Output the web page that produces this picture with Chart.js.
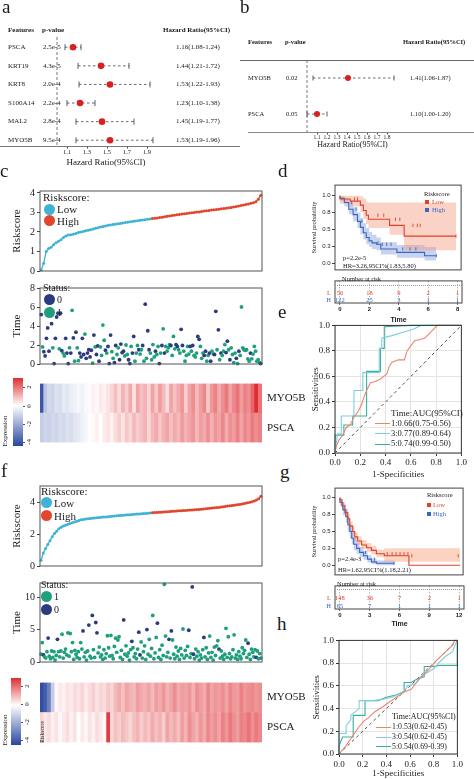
<!DOCTYPE html>
<html>
<head>
<meta charset="utf-8">
<title>Risk model figure</title>
<script src="https://cdn.jsdelivr.net/npm/chart.js@4.4.1/dist/chart.umd.min.js"></script>
<style>
  html, body { margin: 0; padding: 0; background: #fff; }
  body { position: relative; width: 474px; height: 779px; overflow: hidden; font-family: "Liberation Serif", "DejaVu Serif", serif; color: #1a1a1a; }
  canvas { position: absolute; }
  .t { position: absolute; white-space: nowrap; line-height: 1; }
</style>
</head>
<body>
<script>
// ---------- data ----------

// a: univariate cox
const aFeatures = ['PSCA', 'KRT19', 'KRT8', 'S100A14', 'MAL2', 'MYO5B'];
const aPvalues = ['2.5e-5', '4.3e-5', '2.0e-4', '2.2e-4', '2.8e-4', '9.5e-4'];
const aHR = [1.16, 1.44, 1.53, 1.23, 1.45, 1.53];
const aLow = [1.08, 1.21, 1.22, 1.10, 1.19, 1.19];
const aHigh = [1.24, 1.72, 1.93, 1.38, 1.77, 1.96];
const aTicks = [1.1, 1.3, 1.5, 1.7, 1.9];

// b: multivariate cox
const bFeatures = ['MYO5B', 'PSCA'];
const bPvalues = ['0.02', '0.05'];
const bHR = [1.41, 1.10];
const bLow = [1.06, 1.00];
const bHigh = [1.87, 1.20];
const bTicks = [1.1, 1.2, 1.3, 1.4, 1.5, 1.6, 1.7, 1.8];

// c: training cohort
const cRiskLow = [0.05, 0.4, 1.0, 1.15, 1.22, 1.35, 1.45, 1.52, 1.6, 1.72,
  1.8, 1.85, 1.86, 1.88, 1.92, 1.97, 2.0, 2.03, 2.06, 2.09,
  2.12, 2.15, 2.19, 2.22, 2.25, 2.28, 2.31, 2.34, 2.36, 2.38,
  2.4, 2.42, 2.44, 2.46, 2.48, 2.5, 2.52, 2.54, 2.56, 2.58,
  2.6, 2.62, 2.63, 2.65, 2.67];
const cRiskHigh = [2.69, 2.7, 2.72, 2.74, 2.76, 2.78, 2.8, 2.82, 2.84, 2.86,
  2.88, 2.9, 2.92, 2.93, 2.95, 2.97, 2.98, 3.0, 3.02, 3.03,
  3.05, 3.07, 3.09, 3.1, 3.12, 3.14, 3.15, 3.17, 3.19, 3.2,
  3.22, 3.24, 3.26, 3.28, 3.3, 3.33, 3.36, 3.38, 3.41, 3.44,
  3.47, 3.5, 3.55, 3.68, 3.88];
const cTime = [5.2, 1.8, 1.3, 0.85, 2.7, 3.8, 1.35, 5.8, 4.25, 1.7,
  0.05, 2.7, 4.95, 5.35, 1.6, 5.35, 1.4, 1.15, 0.85, 2.7,
  1.15, 0.05, 1.7, 1.15, 5.65, 2.75, 0.3, 3.35, 1.7, 0.35,
  1.15, 0.75, 2.7, 1.0, 3.15, 0.6, 1.15, 1.5, 0.75, 1.45,
  0.1, 3.05, 1.8, 1.0, 1.9, 0.3, 1.8, 0.9, 4.1, 2.5,
  1.45, 1.15, 1.85, 0.05, 3.05, 1.3, 0.6, 0.15, 1.95, 1.0,
  1.7, 0.45, 2.1, 1.2, 1.35, 0.85, 2.0, 1.0, 0.45, 0.05,
  1.85, 1.15, 2.9, 0.3, 1.15, 1.95, 1.5, 1.05, 1.5, 1.95,
  0.3, 6.3, 0.6, 3.5, 1.5, 1.15, 0.45, 2.05, 0.75, 1.35,
  1.0, 1.85, 0.05, 1.15, 1.95, 3.7, 1.15, 1.85, 1.35, 1.7,
  2.05, 1.95, 0.9, 2.9, 1.6, 2.05, 1.85, 1.5, 1.15, 3.65,
  1.95, 1.35, 0.3, 0.9, 1.85, 1.05, 1.85, 1.35, 1.95, 0.9,
  0.75, 1.15, 2.9, 2.6, 1.85, 0.6, 1.15, 0.9, 1.35, 0.3,
  0.9, 1.15, 0.3, 1.35, 1.05, 1.0, 5.55, 1.5, 3.6, 0.45,
  1.15, 0.9, 1.35, 2.05, 1.2, 2.4, 1.5, 0.45, 1.7, 1.0,
  0.15, 1.15, 0.6, 0.05, 1.35, 0.9, 6.0, 1.7, 1.5, 1.45,
  1.5, 0.55, 0.3, 1.15, 0.55, 1.05, 1.85, 1.35, 0.3, 0.45,
  0.15, 0.05];
const cStatus = [0, 1, 0, 0, 0, 0, 0, 0, 0, 1,
  0, 0, 0, 0, 1, 0, 0, 1, 1, 0,
  0, 0, 1, 0, 1, 0, 1, 0, 1, 1,
  0, 0, 0, 0, 1, 0, 0, 0, 0, 0,
  1, 0, 1, 0, 0, 0, 1, 1, 1, 1,
  0, 1, 0, 0, 0, 1, 1, 0, 0, 1,
  1, 0, 0, 0, 0, 1, 1, 1, 0, 0,
  1, 0, 0, 1, 1, 1, 0, 1, 1, 0,
  1, 0, 1, 0, 0, 1, 1, 1, 1, 0,
  1, 1, 0, 1, 0, 1, 0, 1, 1, 1,
  1, 0, 1, 1, 1, 0, 0, 1, 1, 0,
  0, 1, 1, 1, 1, 1, 0, 1, 0, 1,
  1, 1, 0, 0, 1, 1, 1, 0, 0, 1,
  1, 0, 0, 1, 1, 0, 0, 1, 0, 1,
  0, 1, 1, 1, 0, 0, 1, 0, 1, 1,
  1, 1, 0, 1, 0, 1, 1, 1, 1, 1,
  1, 1, 1, 0, 1, 1, 1, 1, 1, 1,
  1, 0];
const cMYO5B = [-4.0, -1.4, -0.9, -1.0, -0.7, -0.8, -0.5, -0.6, -0.4, -0.3,
  -0.2, -0.3, 0.1, -0.1, 0.2, 0.1, 0.3, 0.2, 0.4, 0.6,
  0.9, 0.5, 1.1, 0.7, 1.2, 0.4, 1.3, 0.9, 1.1, 0.6,
  1.3, 0.8, 1.4, 1.0, 0.5, 1.3, 0.9, 1.2, 1.5, 0.7,
  1.3, 1.6, 1.0, 1.4, 1.7, 0.8, 1.5, 1.8, 1.2, 1.6,
  1.9, 1.3, 1.7, 2.0, 1.4, 1.8, 1.6, 2.2, 3.0, 2.0];
const cPSCA = [-1.2, -1.0, -1.1, -0.9, -1.0, -0.8, -0.9, -0.7, -0.8, -0.6,
  -0.5, -0.3, -0.2, 0.0, 0.1, 0.2, 0.0, 0.3, 0.4, 0.2,
  0.5, 0.7, 0.4, 0.8, 0.6, 1.0, 0.7, 0.9, 1.1, 0.6,
  1.0, 1.2, 0.8, 1.1, 1.3, 0.9, 1.2, 1.0, 1.4, 1.1,
  1.3, 1.5, 1.0, 1.4, 1.2, 1.6, 1.1, 1.5, 1.3, 1.7,
  1.2, 1.6, 1.4, 1.8, 1.3, 1.7, 1.5, 1.9, 1.6, 1.8];

// d: KM, training cohort
const dTicks = [0, 2, 4, 6, 8];
const dRiskLow = [56, 18, 9, 2, 1];
const dRiskHigh = [122, 25, 3, 1, 1];
const dLowT = [0, 0.7, 1.4, 1.6, 1.8, 1.95, 3.4, 4.4, 5.85, 7.95];
const dLowS = [1.0, 0.95, 0.92, 0.86, 0.78, 0.71, 0.65, 0.56, 0.40, 0.40];
const dLowUp = [1.0, 1.0, 1.0, 0.99, 0.96, 0.91, 0.90, 0.90, 0.90, 0.90];
const dLowLo = [1.0, 0.88, 0.84, 0.76, 0.66, 0.58, 0.52, 0.42, 0.19, 0.19];
const dLowCens = [1.0, 1.2, 2.6, 3.0, 3.8, 4.1, 5.0, 5.3, 5.5, 7.95];
const dHighT = [0, 0.3, 0.6, 0.9, 1.2, 1.4, 1.6, 1.8, 2.0, 2.2, 2.5, 2.8, 3.9, 5.8, 6.0, 6.6];
const dHighS = [1.0, 0.96, 0.9, 0.8, 0.72, 0.62, 0.53, 0.45, 0.38, 0.33, 0.3, 0.28, 0.21, 0.16, 0.11, 0.11];
const dHighUp = [1.0, 0.99, 0.96, 0.9, 0.83, 0.75, 0.67, 0.59, 0.52, 0.46, 0.42, 0.38, 0.31, 0.27, 0.24, 0.24];
const dHighLo = [1.0, 0.92, 0.84, 0.72, 0.62, 0.52, 0.43, 0.35, 0.28, 0.24, 0.21, 0.19, 0.13, 0.08, 0.04, 0.04];
const dHighCens = [0.8, 1.1, 1.5, 2.6, 2.9, 3.2, 3.5, 4.3, 4.8, 5.2, 6.6];

// e: ROC, training cohort
const e1F = [0, 0.01, 0.03, 0.06, 0.09, 0.12, 0.15, 0.18, 0.21, 0.23, 0.25, 0.28, 0.32, 0.36, 0.41, 0.43, 0.45, 0.5, 0.55, 0.57, 0.6, 0.63, 0.71, 0.75, 0.79, 0.81, 1];
const e1T = [0, 0.05, 0.1, 0.14, 0.2, 0.22, 0.28, 0.32, 0.38, 0.44, 0.49, 0.55, 0.56, 0.58, 0.62, 0.68, 0.71, 0.73, 0.73, 0.8, 0.84, 0.88, 0.9, 0.94, 0.98, 1, 1];
const e3F = [0, 0.02, 0.05, 0.05, 0.15, 0.15, 0.22, 0.22, 0.35, 0.35, 0.37, 0.37, 0.45, 0.55, 0.62, 0.68, 1];
const e3T = [0, 0.15, 0.15, 0.29, 0.29, 0.49, 0.49, 0.63, 0.63, 0.82, 0.82, 0.9, 0.92, 0.95, 0.97, 1, 1];
const e5F = [0, 0, 0.07, 0.07, 0.14, 0.14, 0.25, 0.25, 0.36, 0.36, 0.39, 0.39, 0.6, 1];
const e5T = [0, 0.14, 0.14, 0.22, 0.22, 0.29, 0.29, 0.64, 0.64, 0.82, 0.82, 0.99, 1, 1];
const eAUC = ['1:0.66(0.75-0.56)', '3:0.77(0.89-0.64)', '5:0.74(0.99-0.50)'];

// f: validation cohort
const fRiskLow = [0.36, 0.82, 1.1, 1.35, 1.6, 1.85, 2.05, 2.2, 2.35, 2.45,
  2.52, 2.58, 2.63, 2.68, 2.73, 2.78, 2.83, 2.88, 2.92, 2.94,
  2.96, 2.98, 3.0, 3.01, 3.03, 3.04, 3.06, 3.07, 3.09, 3.1,
  3.11, 3.13, 3.14, 3.15, 3.17, 3.18, 3.19, 3.2, 3.22, 3.23,
  3.24, 3.25, 3.27, 3.28, 3.29, 3.3, 3.31, 3.32, 3.33, 3.35];
const fRiskHigh = [3.36, 3.37, 3.38, 3.39, 3.4, 3.41, 3.42, 3.43, 3.44, 3.45,
  3.46, 3.47, 3.48, 3.49, 3.5, 3.51, 3.52, 3.53, 3.54, 3.55,
  3.56, 3.57, 3.59, 3.6, 3.61, 3.63, 3.64, 3.66, 3.67, 3.69,
  3.7, 3.72, 3.74, 3.76, 3.78, 3.8, 3.82, 3.84, 3.86, 3.88,
  3.9, 3.93, 3.96, 3.99, 4.02, 4.06, 4.1, 4.16, 4.24, 4.4];
const fTime = [1.2, 3.0, 1.1, 0.8, 0.6, 1.6, 3.7, 0.9, 0.5, 1.7,
  0.7, 1.6, 0.3, 1.0, 3.5, 1.6, 0.8, 1.7, 4.3, 0.6,
  1.5, 2.0, 1.1, 4.5, 0.9, 4.4, 1.6, 3.0, 0.4, 1.8,
  1.2, 0.7, 1.6, 0.5, 3.0, 2.0, 4.8, 0.8, 1.5, 0.3,
  1.7, 5.7, 0.9, 0.6, 7.2, 1.9, 0.7, 6.1, 4.5, 1.4,
  2.3, 0.8, 1.1, 0.4, 1.9, 0.6, 1.3, 4.05, 2.2, 0.9,
  4.1, 1.0, 0.5, 2.4, 3.7, 1.5, 3.4, 3.9, 0.7, 1.8,
  0.4, 6.5, 1.2, 2.5, 0.9, 1.4, 0.3, 1.9, 3.2, 2.2,
  0.8, 1.3, 0.5, 2.0, 4.6, 1.1, 3.1, 0.6, 1.6, 2.5,
  0.4, 5.0, 1.2, 3.5, 0.9, 2.1, 7.2, 0.5, 1.4, 3.8,
  6.0, 0.7, 1.9, 0.4, 2.6, 1.0, 12.0, 4.0, 0.8, 1.5,
  3.5, 0.6, 4.8, 3.4, 1.2, 0.5, 2.3, 0.9, 1.7, 0.4,
  2.1, 1.1, 5.1, 0.6, 1.8, 1.0, 2.4, 4.9, 0.7, 1.3,
  11.6, 1.2, 0.5, 2.0, 0.9, 1.6, 0.3, 1.1, 0.6, 1.9,
  3.8, 0.8, 2.2, 0.4, 1.4, 4.0, 0.7, 1.5, 0.3, 2.3,
  1.0, 2.5, 3.3, 2.0, 0.6, 1.7, 0.9, 0.4, 1.2, 5.2,
  0.7, 3.9, 1.3, 0.5, 0.8, 1.9, 4.2, 0.6, 1.1, 0.4,
  1.6, 0.9, 0.5, 2.2, 1.3, 1.8, 3.4, 0.7, 2.9, 1.2,
  0.4, 2.0, 1.5, 0.8, 1.9, 0.7, 1.7, 0.5, 1.3, 0.6];
const fStatus = [1, 1, 0, 1, 1, 1, 0, 1, 1, 1,
  1, 1, 1, 1, 0, 1, 1, 1, 1, 1,
  1, 1, 1, 1, 1, 1, 1, 1, 1, 1,
  1, 1, 1, 1, 1, 1, 0, 1, 1, 1,
  1, 0, 1, 1, 0, 1, 1, 0, 0, 1,
  1, 1, 1, 1, 1, 1, 1, 1, 1, 1,
  1, 1, 1, 1, 1, 1, 1, 1, 1, 1,
  1, 0, 1, 1, 1, 1, 1, 1, 0, 1,
  1, 1, 1, 1, 0, 0, 1, 1, 1, 1,
  1, 0, 1, 1, 1, 1, 1, 1, 1, 1,
  0, 1, 1, 1, 1, 1, 1, 1, 1, 1,
  0, 1, 0, 1, 1, 1, 1, 1, 1, 1,
  1, 1, 1, 1, 1, 1, 1, 0, 1, 1,
  0, 0, 1, 1, 1, 1, 1, 1, 1, 1,
  0, 1, 1, 1, 1, 1, 1, 1, 1, 1,
  1, 1, 1, 0, 1, 1, 1, 1, 1, 1,
  1, 1, 1, 1, 1, 1, 1, 1, 1, 1,
  1, 1, 1, 1, 1, 1, 1, 1, 0, 1,
  1, 1, 1, 1, 1, 0, 1, 1, 1, 1];
const fMYO5B = [-4.2, -3.8, -3.0, -1.2, 0.1, 0.3, 0.2, 0.4, 0.3, 0.5,
  0.4, 0.6, 0.3, 0.5, 0.7, 0.4, 0.6, 0.5, 0.8, 0.6,
  1.0, 1.2, 0.9, 1.3, 1.1, 1.0, 1.4, 1.2, 1.1, 1.3,
  1.0, 1.4, 1.2, 1.5, 1.1, 1.3, 1.6, 1.2, 1.4, 1.3,
  1.5, 1.1, 1.6, 1.4, 1.2, 1.7, 1.3, 1.5, 1.4, 1.6,
  1.3, 1.7, 1.5, 1.4, 1.8, 1.5, 1.6, 1.7, 1.5, 1.6];
const fPSCA = [0.6, 0.3, 0.5, 0.2, 0.4, 0.1, 0.3, 0.5, 0.2, 0.4,
  0.0, 0.3, 0.1, 0.4, 0.2, 0.5, 0.3, 0.1, 2.8, 0.6,
  0.9, 0.7, 1.0, 0.8, 0.6, 0.9, 1.1, 0.7, 1.0, 0.8,
  1.2, 0.9, 1.1, 0.7, 1.3, 1.0, 1.2, 0.9, 1.4, 1.1,
  1.6, 1.3, 1.1, 1.5, 1.2, 1.7, 1.4, 1.6, 1.3, 1.8,
  1.5, 1.9, 1.6, 1.4, 1.8, 1.7, 2.0, 1.6, 1.9, 1.7];

// g: KM, validation cohort
const gTicks = [0, 3, 6, 9, 12];
const gRiskLow = [148, 36, 7, 2, 1];
const gRiskHigh = [65, 7, 1, 1, 1];
const gLowT = [0, 0.2, 0.5, 0.8, 1.0, 1.3, 1.5, 1.8, 2.2, 2.7, 3.2, 3.7, 4.5, 7.0, 12.2];
const gLowS = [1.0, 0.97, 0.88, 0.78, 0.69, 0.58, 0.5, 0.42, 0.36, 0.3, 0.26, 0.22, 0.17, 0.14, 0.0];
const gLowUp = [1.0, 1.0, 0.93, 0.84, 0.76, 0.65, 0.57, 0.49, 0.43, 0.37, 0.33, 0.29, 0.23, 0.25, 0.25];
const gLowLo = [1.0, 0.94, 0.83, 0.72, 0.62, 0.51, 0.43, 0.35, 0.3, 0.24, 0.2, 0.16, 0.12, 0.05, 0.05];
const gLowCens = [4.8, 5.3, 5.7, 6.1, 6.5, 6.9, 7.3, 12.0];
const gHighT = [0, 0.3, 0.6, 0.8, 1.0, 1.2, 1.4, 1.7, 2.0, 2.4, 2.8, 3.2, 3.7, 4.2, 5.5];
const gHighS = [1.0, 0.93, 0.82, 0.72, 0.6, 0.5, 0.4, 0.31, 0.25, 0.19, 0.14, 0.09, 0.05, 0.03, 0.03];
const gHighUp = [1.0, 0.98, 0.9, 0.81, 0.7, 0.6, 0.5, 0.41, 0.34, 0.27, 0.21, 0.15, 0.1, 0.07, 0.07];
const gHighLo = [1.0, 0.88, 0.74, 0.63, 0.5, 0.4, 0.31, 0.22, 0.17, 0.12, 0.08, 0.04, 0.02, 0.0, 0.0];
const gHighCens = [2.6, 3.5, 5.5];

// h: ROC, validation cohort
const h1F = [0, 0.05, 0.09, 0.13, 0.17, 0.21, 0.25, 0.3, 0.36, 0.43, 0.5, 0.56, 0.61, 0.66, 0.72, 0.78, 0.83, 0.88, 0.91, 0.95, 0.98, 1];
const h1T = [0, 0.06, 0.12, 0.18, 0.24, 0.29, 0.32, 0.37, 0.41, 0.46, 0.51, 0.55, 0.57, 0.64, 0.7, 0.77, 0.83, 0.88, 0.91, 0.95, 1, 1];
const h3F = [0, 0, 0.06, 0.06, 0.1, 0.1, 0.17, 0.17, 0.28, 0.36, 0.45, 0.55, 0.58, 0.65, 0.69, 0.75, 0.8, 0.85, 0.9, 0.96, 0.98, 1];
const h3T = [0, 0.18, 0.18, 0.25, 0.3, 0.34, 0.4, 0.47, 0.47, 0.48, 0.5, 0.55, 0.6, 0.62, 0.68, 0.72, 0.75, 0.81, 0.86, 0.9, 0.96, 1];
const h5F = [0, 0, 0.03, 0.12, 0.12, 0.22, 0.22, 0.33, 0.4, 0.48, 0.55, 0.55, 0.61, 0.66, 0.72, 0.72, 0.8, 0.85, 1, 1];
const h5T = [0, 0.07, 0.15, 0.15, 0.34, 0.34, 0.47, 0.47, 0.5, 0.52, 0.55, 0.63, 0.63, 0.66, 0.68, 0.77, 0.77, 0.78, 0.78, 1];
const hAUC = ['1:0.53(0.62-0.45)', '3:0.54(0.62-0.45)', '5:0.54(0.69-0.39)'];

// ---------- style ----------
const SERIF = '"Liberation Serif", "DejaVu Serif", serif';
const SANS = '"Liberation Sans", Arial, sans-serif';
const LOWC = '#3eb3d5', HIGHC = '#e0472d';
const S0C = '#2c3b80', S1C = '#1f9f7b';
const KMRED = '#e1402b', KMBLUE = '#3a66c2';
const ROCC = ['#ee8571', '#7ccfe0', '#3aaf9a'];

Chart.defaults.animation = false;
Chart.defaults.events = [];
Chart.defaults.font.family = SERIF;
Chart.defaults.color = '#1a1a1a';
Chart.defaults.plugins.legend.display = false;
Chart.defaults.plugins.tooltip.enabled = false;

// box round the plot area
Chart.register({
  id: 'frame',
  defaults: { color: null, width: 1 },
  afterDatasetsDraw(chart, args, opts) {
    if (!opts.color) return;
    const a = chart.chartArea, g = chart.ctx;
    g.save();
    g.strokeStyle = opts.color;
    g.lineWidth = opts.width;
    g.strokeRect(a.left, a.top, a.right - a.left, a.bottom - a.top);
    g.restore();
  }
});

// text written at a dataset's points (numbers at risk, p-values)
Chart.register({
  id: 'pointText',
  afterDatasetsDraw(chart) {
    const g = chart.ctx;
    chart.data.datasets.forEach((ds, i) => {
      if (!ds.texts) return;
      const meta = chart.getDatasetMeta(i);
      g.save();
      g.fillStyle = ds.textColor;
      g.font = ds.textFont;
      g.textAlign = ds.textAlign || 'center';
      g.textBaseline = 'middle';
      meta.data.forEach((el, j) => g.fillText(ds.texts[j], el.x + (ds.textDx || 0), el.y));
      g.restore();
    });
  }
});

// ---------- helpers ----------
function mk(l, t, w, h) {
  const c = document.createElement('canvas');
  c.style.left = l + 'px';
  c.style.top = t + 'px';
  c.style.width = w + 'px';
  c.style.height = h + 'px';
  c.width = w;
  c.height = h;
  document.body.appendChild(c);
  return c;
}

function put(text, x, y, size, st) {
  const d = document.createElement('div');
  d.className = 't';
  d.textContent = text;
  d.style.left = x + 'px';
  d.style.top = (y - size / 2) + 'px';
  d.style.fontSize = size + 'px';
  if (st) Object.assign(d.style, st);
  document.body.appendChild(d);
  return d;
}

function putRot(text, cx, cy, size, st) {
  const d = put(text, cx, cy, size, st);
  d.style.top = cy + 'px';
  d.style.transform = 'translate(-50%,-50%) rotate(-90deg)';
  return d;
}

function box(x, y, w, h, st) {
  const d = document.createElement('div');
  d.style.position = 'absolute';
  d.style.left = x + 'px';
  d.style.top = y + 'px';
  d.style.width = w + 'px';
  d.style.height = h + 'px';
  Object.assign(d.style, st);
  document.body.appendChild(d);
  return d;
}

function dot(cx, cy, r, color) {
  box(cx - r, cy - r, 2 * r, 2 * r, { borderRadius: '50%', background: color });
}

function fixedTicks(vals) {
  return s => { s.ticks = vals.map(v => ({ value: v })); };
}

function heatColor(v) {
  const w = [255, 255, 255], r = [222, 45, 50], b = [40, 70, 160];
  const k = v >= 0 ? Math.min(v / 3, 1) : Math.min(-v / 4.4, 1);
  const c = v >= 0 ? r : b;
  return 'rgb(' + w.map((x, i) => Math.round(x + (c[i] - x) * k)).join(',') + ')';
}

function survAt(t, s, x) {
  let v = s[0];
  t.forEach((ti, i) => { if (ti <= x) v = s[i]; });
  return v;
}

// ---------- chart builders ----------
function forest(canvas, f) {
  const rows = f.names.map((_, i) => i);
  const hrText = f.hr.map((v, i) => v.toFixed(2) + '(' + f.lo[i].toFixed(2) + '-' + f.hi[i].toFixed(2) + ')');
  const datasets = [{
    data: f.hr.map((v, i) => ({ x: v, y: i })),
    pointRadius: f.dot, pointBackgroundColor: '#d91f1f', pointBorderWidth: 0
  }];
  rows.forEach(i => datasets.push({
    data: [{ x: f.lo[i], y: i }, { x: f.hi[i], y: i }],
    showLine: true, borderColor: '#444', borderWidth: 0.8, borderDash: [2.5, 2.5],
    pointStyle: 'line', rotation: 90, pointRadius: f.cap, pointBorderColor: '#333', pointBorderWidth: 0.8
  }));
  datasets.push({
    data: [{ x: 1, y: f.yMin }, { x: 1, y: f.yMax }],
    showLine: true, borderColor: '#555', borderWidth: 0.8, borderDash: [3, 2], pointRadius: 0
  });
  // p-value column, anchored to the rows
  datasets.push({
    data: rows.map(i => ({ x: f.xMin, y: i })), pointRadius: 0,
    texts: f.pv, textColor: '#1a1a1a', textFont: f.fs + 'px ' + SERIF, textAlign: 'left', textDx: -f.pDx
  });
  const rowFont = { family: SERIF, size: f.fs };
  const rowAxis = (pos, width, labels, align, pad) => ({
    type: 'linear', position: pos, reverse: true, min: f.yMin, max: f.yMax,
    afterBuildTicks: fixedTicks(rows), afterFit: s => { s.width = width; },
    ticks: { font: rowFont, crossAlign: align, padding: pad, autoSkip: false, callback: v => labels[v] },
    grid: { display: false, drawTicks: false }, border: { display: false }
  });
  new Chart(canvas, {
    type: 'scatter',
    data: { datasets },
    options: {
      responsive: false,
      layout: { padding: { left: f.padL, top: f.padT, right: 0, bottom: 0 } },
      scales: {
        x: {
          type: 'linear', min: f.xMin, max: f.xMax,
          afterBuildTicks: fixedTicks(f.ticks), afterFit: s => { s.height = f.xH; },
          ticks: { font: { family: SERIF, size: f.tfs }, padding: 0, maxRotation: 0, autoSkip: false, callback: v => v.toFixed(1) },
          grid: { drawOnChartArea: false, tickLength: 2.5, color: '#444' }, border: { display: false },
          title: { display: true, text: 'Hazard Ratio(95%CI)', font: { family: SERIF, size: f.xtfs }, padding: 0 }
        },
        y: rowAxis('left', f.wName, f.names, 'far', 0),
        yh: rowAxis('right', f.wHR, hrText, 'near', f.hrPad)
      }
    }
  });
}

function leftAxis(max, ticks, title) {
  return {
    type: 'linear', min: 0, max: max,
    afterBuildTicks: fixedTicks(ticks), afterFit: s => { s.width = 40; },
    ticks: { font: { family: SERIF, size: 10 }, padding: 2, autoSkip: false },
    grid: { drawOnChartArea: false, tickLength: 3, color: '#444' }, border: { display: false },
    title: { display: true, text: title, font: { family: SERIF, size: 11 }, padding: { top: 11, bottom: 0 } }
  };
}

function riskPlot(canvas, r) {
  const nL = r.low.length, n = nL + r.high.length;
  const seg = (vals, off, col) => ({
    data: vals.map((v, i) => ({ x: i + off, y: v })), showLine: true, clip: false,
    borderColor: col, borderWidth: 1.3, pointRadius: 1.5, pointBackgroundColor: col, pointBorderWidth: 0
  });
  new Chart(canvas, {
    type: 'scatter',
    data: { datasets: [seg(r.low, 0, LOWC), seg(r.high, nL, HIGHC)] },
    options: {
      responsive: false,
      layout: { padding: r.pad },
      plugins: { frame: { color: '#555' } },
      scales: {
        x: { type: 'linear', min: -0.5, max: n - 0.5, display: false },
        y: leftAxis(r.yMax, r.ticks, 'Riskscore')
      }
    }
  });
}

function timePlot(canvas, t) {
  new Chart(canvas, {
    type: 'scatter',
    data: { datasets: [{
      data: t.time.map((v, i) => ({ x: i, y: v })), clip: false,
      pointRadius: 1.9, pointBorderWidth: 0,
      pointBackgroundColor: t.status.map(s => (s ? S1C : S0C))
    }] },
    options: {
      responsive: false,
      layout: { padding: t.pad },
      plugins: { frame: { color: '#555' } },
      scales: {
        x: { type: 'linear', min: -1, max: t.time.length, display: false },
        y: leftAxis(t.yMax, t.ticks, 'Time')
      }
    }
  });
}

function heatmap(canvas, hm) {
  const cols = hm.top.map((_, i) => String(i));
  const row = vals => ({
    data: vals.map(() => 1), backgroundColor: vals.map(heatColor),
    borderWidth: 0, barPercentage: 1, categoryPercentage: 1
  });
  new Chart(canvas, {
    type: 'bar',
    data: { labels: cols, datasets: [row(hm.bottom), row(hm.top)] },
    options: {
      responsive: false,
      layout: { padding: { left: 40, top: 2, right: 0, bottom: 2 } },
      scales: {
        x: { stacked: true, display: false },
        y: {
          stacked: true, position: 'right', min: 0, max: 2,
          afterBuildTicks: fixedTicks([0.5, 1.5]), afterFit: s => { s.width = 43; },
          ticks: { font: { family: SERIF, size: 11 }, padding: 5, autoSkip: false, callback: v => (v > 1 ? hm.names[0] : hm.names[1]) },
          grid: { display: false, drawTicks: false }, border: { display: false }
        }
      }
    }
  });
}

function kmPlot(canvas, k) {
  const pts = (t, s) => t.map((v, i) => ({ x: v, y: s[i] }));
  const ds = [];
  k.curves.forEach(c => {
    ds.push({ data: pts(c.t, c.s), stepped: 'after', borderColor: c.color, borderWidth: 1.1, pointRadius: 0, fill: false });
    ds.push({ data: c.cens.map(x => ({ x: x, y: survAt(c.t, c.s, x) })), showLine: false,
      pointStyle: 'line', rotation: 90, pointRadius: 1.7, pointBorderColor: c.color, pointBorderWidth: 0.9 });
  });
  k.curves.forEach(c => {
    ds.push({ data: pts(c.t, c.up), stepped: 'after', borderWidth: 0, pointRadius: 0, fill: '+1', backgroundColor: c.band });
    ds.push({ data: pts(c.t, c.lo), stepped: 'after', borderWidth: 0, pointRadius: 0, fill: false });
  });
  new Chart(canvas, {
    type: 'line',
    data: { datasets: ds },
    options: {
      responsive: false,
      layout: { padding: { left: 0, top: 5, right: 4, bottom: 2 } },
      plugins: { frame: { color: '#444' } },
      scales: {
        x: { type: 'linear', min: k.xMin, max: k.xMax, display: false },
        y: {
          type: 'linear', min: k.yMin, max: k.yMax,
          afterBuildTicks: fixedTicks([0, 0.25, 0.5, 0.75, 1]), afterFit: s => { s.width = 35; },
          ticks: { font: { family: SANS, size: 6 }, padding: 1.5, autoSkip: false, callback: v => v.toFixed(1) },
          grid: { drawOnChartArea: false, tickLength: 3, color: '#444' }, border: { display: false },
          title: { display: true, text: 'Survival probability', font: { family: SERIF, size: 6.5 }, padding: { top: 10, bottom: 0 } }
        }
      }
    }
  });
}

function riskTable(canvas, rt) {
  const row = (vals, y, col) => ({
    data: rt.ticks.map(t => ({ x: t, y: y })), texts: vals.map(String),
    textColor: col, textFont: '6.5px ' + SERIF, showLine: false, pointRadius: 0
  });
  new Chart(canvas, {
    type: 'scatter',
    data: { datasets: [row(rt.low, rt.yL, KMRED), row(rt.high, rt.yH, KMBLUE)] },
    options: {
      responsive: false,
      layout: { padding: { left: 0, top: 0, right: 4, bottom: 0 } },
      plugins: { frame: { color: '#444' } },
      scales: {
        x: {
          type: 'linear', min: rt.xMin, max: rt.xMax,
          afterBuildTicks: fixedTicks(rt.ticks), afterFit: s => { s.height = rt.xH; },
          ticks: { font: { family: SANS, size: 6, weight: 'bold' }, padding: 1, maxRotation: 0, autoSkip: false },
          grid: { color: '#9a9a9a', lineWidth: 0.7, tickColor: '#333', tickLength: 2 },
          border: { display: false, dash: [1.5, 1.5] },
          title: { display: true, text: 'Time', font: { family: SANS, size: 7, weight: 'bold' }, padding: 0 }
        },
        y: {
          type: 'linear', min: 0, max: rt.yMax,
          afterBuildTicks: fixedTicks([rt.yH, rt.yL]), afterFit: s => { s.width = 35; },
          ticks: {
            font: { family: SERIF, size: 6.5 }, padding: 4, autoSkip: false,
            color: c => (c.tick && c.tick.value === rt.yL ? KMRED : KMBLUE),
            callback: v => (v === rt.yL ? 'L' : 'H')
          },
          grid: { display: false, drawTicks: false }, border: { display: false }
        }
      }
    }
  });
}

function rocPlot(canvas, r) {
  const ds = r.curves.map((c, i) => ({
    data: c.f.map((v, j) => ({ x: v, y: c.t[j] })),
    borderColor: ROCC[i], borderWidth: 1.1, pointRadius: 0, fill: false, clip: 2
  }));
  ds.push({ data: [{ x: 0, y: 0 }, { x: 1, y: 1 }], borderColor: '#222', borderWidth: 0.8, borderDash: [3, 3], pointRadius: 0, fill: false });
  const f = { family: SERIF, size: r.fs };
  const steps = [0, 0.2, 0.4, 0.6, 0.8, 1];
  new Chart(canvas, {
    type: 'line',
    data: { datasets: ds },
    options: {
      responsive: false,
      layout: { padding: { left: 0, top: 5, right: 4, bottom: 0 } },
      plugins: { frame: { color: '#333' } },
      scales: {
        x: {
          type: 'linear', min: 0, max: 1,
          afterBuildTicks: fixedTicks(steps), afterFit: s => { s.height = r.xH; },
          ticks: { font: f, padding: r.tp, maxRotation: 0, autoSkip: false, callback: v => v.toFixed(1) },
          grid: { color: '#e4e4e4', tickColor: '#333', tickLength: 3 }, border: { display: false },
          title: { display: true, text: '1-Specificities', font: f, padding: 0 }
        },
        y: {
          type: 'linear', min: 0, max: 1,
          afterBuildTicks: fixedTicks(steps), afterFit: s => { s.width = r.yW; },
          ticks: { font: f, padding: 2, autoSkip: false, callback: v => v.toFixed(1) },
          grid: { color: '#e4e4e4', tickColor: '#333', tickLength: 3 }, border: { display: false },
          title: { display: true, text: 'Sensitivities', font: f, padding: { top: r.titlePad, bottom: 0 } }
        }
      }
    }
  });
}

// ---------- a ----------
forest(mk(0, 0, 240, 168), {
  names: aFeatures, pv: aPvalues, hr: aHR, lo: aLow, hi: aHigh, ticks: aTicks,
  padL: 8, padT: 37, wName: 44, pDx: 9, wHR: 80, hrPad: 16,
  xMin: 0.95, xMax: 2.03, yMin: -0.55, yMax: 5.31, xH: 22,
  fs: 7, tfs: 6.5, xtfs: 9, dot: 3.3, cap: 3
});
put('Features', 8, 30, 7, { fontWeight: 'bold' });
put('p-value', 42, 30, 7, { fontWeight: 'bold' });
put('Hazard Ratio(95%CI)', 163, 30, 7, { fontWeight: 'bold' });
box(0, 146, 240, 0, { borderTop: '1px solid #777' });

// ---------- b ----------
forest(mk(240, 0, 234, 150), {
  names: bFeatures, pv: bPvalues, hr: bHR, lo: bLow, hi: bHigh, ticks: bTicks,
  padL: 8, padT: 60, wName: 57, pDx: 19, wHR: 74, hrPad: 10,
  xMin: 0.98, xMax: 1.93, yMin: -0.5, yMax: 1.5, xH: 18,
  fs: 6.5, tfs: 5.5, xtfs: 8, dot: 3, cap: 2.5
});
put('Features', 248, 42, 6.5, { fontWeight: 'bold' });
put('p-value', 285, 42, 6.5, { fontWeight: 'bold' });
put('Hazard Ratio(95%CI)', 403, 42, 6.5, { fontWeight: 'bold' });
box(240, 60, 234, 0, { borderTop: '1px solid #666' });
box(248, 132, 226, 0, { borderTop: '1px solid #888' });

// ---------- c ----------
riskPlot(mk(0, 183, 266, 96), {
  low: cRiskLow, high: cRiskHigh, yMax: 4.1, ticks: [0, 1, 2, 3, 4],
  pad: { left: 0, top: 6, right: 4, bottom: 1 }
});
timePlot(mk(0, 280, 266, 92), {
  time: cTime, status: cStatus, yMax: 8, ticks: [0, 2, 4, 6, 8],
  pad: { left: 0, top: 3, right: 4, bottom: 2 }
});
heatmap(mk(0, 372, 305, 82), { top: cMYO5B, bottom: cPSCA, names: ['MYO5B', 'PSCA'] });

put('Riskscore:', 43, 197, 11);
dot(49, 209, 5.5, LOWC); put('Low', 57, 209, 11);
dot(49, 220, 5.5, HIGHC); put('High', 57, 221, 11);
put('Status:', 43, 288, 10);
dot(49, 299, 5.5, S0C); put('0', 57, 300, 10);
dot(49, 312, 5.5, S1C); put('1', 57, 313, 10);

// ---------- d ----------
kmPlot(mk(300, 180, 166, 95), {
  xMin: -0.34, xMax: 8.3, yMin: -0.1, yMax: 1.157,
  curves: [
    { t: dLowT, s: dLowS, up: dLowUp, lo: dLowLo, cens: dLowCens, color: KMRED, band: 'rgba(243,158,128,0.45)' },
    { t: dHighT, s: dHighS, up: dHighUp, lo: dHighLo, cens: dHighCens, color: KMBLUE, band: 'rgba(118,146,214,0.4)' }
  ]
});
riskTable(mk(300, 273, 166, 51), {
  ticks: dTicks, low: dRiskLow, high: dRiskHigh,
  xMin: -0.34, xMax: 8.3, yMax: 3, yL: 1.3, yH: 0.4, xH: 21
});
put('Riskscore', 424, 194.5, 6.5);
box(425, 199.5, 4, 4, { background: KMRED }); put('Low', 432, 202, 6.5, { color: KMRED });
box(425, 208, 4, 4, { background: KMBLUE }); put('High', 432, 210.5, 6.5, { color: KMBLUE });
put('p=2.2e-5', 343, 258.5, 6.5);
put('HR=3.26,95CI%(1.83,5.80)', 343, 266.5, 6.5);
put('Number at risk', 342, 279.5, 6.5);
box(335, 285, 127, 0, { borderTop: '1px dotted #999' });

// ---------- e ----------
rocPlot(mk(300, 318, 168, 162), {
  curves: [{ f: e1F, t: e1T }, { f: e3F, t: e3T }, { f: e5F, t: e5T }],
  fs: 9, xH: 27, yW: 35, tp: 1, titlePad: 10.6
});
put('Time:AUC(95%CI)', 391, 413, 9);
eAUC.forEach((lab, i) => {
  box(375, 423 + i * 10.3, 15, 0, { borderTop: '1.2px solid ' + ROCC[i] });
  put(lab, 391, 423 + i * 10.3, 8.5);
});

// ---------- f ----------
riskPlot(mk(0, 478, 266, 96), {
  low: fRiskLow, high: fRiskHigh, yMax: 5.05, ticks: [0, 2, 4],
  pad: { left: 0, top: 5, right: 4, bottom: 1 }
});
timePlot(mk(0, 575, 266, 95), {
  time: fTime, status: fStatus, yMax: 12.2, ticks: [0, 5, 10],
  pad: { left: 0, top: 3, right: 4, bottom: 2 }
});
heatmap(mk(0, 671, 305, 83), { top: fMYO5B, bottom: fPSCA, names: ['MYO5B', 'PSCA'] });

put('Riskscore:', 41, 491, 11);
dot(46, 502, 5.5, LOWC); put('Low', 54, 503, 11);
dot(46, 515, 5.5, HIGHC); put('High', 54, 516, 11);
put('Status:', 41, 585, 10);
dot(46, 596, 5.5, S1C); put('1', 54, 597, 10);
dot(46, 609, 5.5, S0C); put('0', 54, 610, 10);
putRot('Riskscore', 43, 732, 5.5);

// expression colour bars
function colorbar(x, top, h, ticks) {
  box(x, top, 10, h, { background: 'linear-gradient(to bottom, rgb(222,45,50) 0%, #fff 40.5%, rgb(40,70,160) 100%)' });
  ticks.forEach(tk => {
    box(x + 10, tk[1], 2, 0, { borderTop: '1px solid #555' });
    putRot(tk[0], x + 16, tk[1], 7);
  });
  putRot('Expression', 5, top + h * 0.78, 7);
}
colorbar(13, 378, 68, [['2', 387], ['0', 406], ['-2', 424], ['-4', 442]]);
colorbar(11, 678, 67, [['2', 686], ['0', 704], ['-2', 722], ['-4', 740]]);

// ---------- g ----------
kmPlot(mk(300, 483, 168, 97), {
  xMin: -0.5, xMax: 12.5, yMin: -0.143, yMax: 1.143,
  curves: [
    { t: gLowT, s: gLowS, up: gLowUp, lo: gLowLo, cens: gLowCens, color: KMRED, band: 'rgba(243,158,118,0.45)' },
    { t: gHighT, s: gHighS, up: gHighUp, lo: gHighLo, cens: gHighCens, color: KMBLUE, band: 'rgba(118,146,214,0.4)' }
  ]
});
riskTable(mk(300, 578, 168, 50), {
  ticks: gTicks, low: gRiskLow, high: gRiskHigh,
  xMin: -0.5, xMax: 12.5, yMax: 3.1, yL: 1.4, yH: 0.4, xH: 19
});
put('Riskscore', 427, 495.5, 6.5);
box(427, 503, 4, 4, { background: KMRED }); put('Low', 433, 505, 6.5, { color: KMRED });
box(427, 512, 4, 4, { background: KMBLUE }); put('High', 433, 514, 6.5, { color: KMBLUE });
put('p=2.4e-3', 338, 559.5, 6.5);
put('HR=1.62,95CI%(1.18,2.21)', 338, 570.5, 6.5);
put('Number at risk', 337, 584.5, 6.5);
box(335, 589, 129, 0, { borderTop: '1px dotted #999' });

// ---------- h ----------
rocPlot(mk(300, 633, 165, 146), {
  curves: [{ f: h1F, t: h1T }, { f: h3F, t: h3T }, { f: h5F, t: h5T }],
  fs: 9, xH: 25, yW: 39, tp: 2, titlePad: 11.6
});
put('Time:AUC(95%CI)', 392, 717, 8);
hAUC.forEach((lab, i) => {
  box(376, 727 + i * 9.7, 15, 0, { borderTop: '1.2px solid ' + ROCC[i] });
  put(lab, 392, 727 + i * 9.7, 7.8);
});

// ---------- panel letters ----------
[['a', 2, -3], ['b', 240, -3], ['c', 0, 161], ['d', 278, 161], ['e', 278, 302],
 ['f', 1, 461], ['g', 280, 462], ['h', 277, 614]].forEach(p => put(p[0], p[1], p[2] + 9.5, 19));
</script>
</body>
</html>
